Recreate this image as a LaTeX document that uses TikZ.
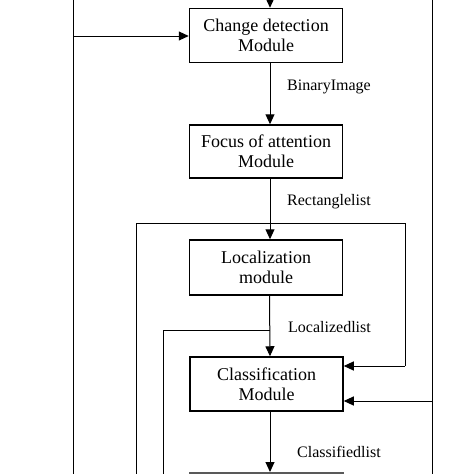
\documentclass[tikz,border=0pt]{standalone}
\usepackage{fontspec}
\setmainfont{Liberation Serif}
\usetikzlibrary{arrows.meta}
\begin{document}
\begin{tikzpicture}[x=1pt, y=-1pt,
	module/.style={draw, line width=1.5pt, minimum width=153pt, minimum height=54pt, align=center, inner sep=2pt, font=\fontsize{18}{20}\selectfont},
	wire/.style={line width=1pt},
	arr/.style={line width=1pt, -{Triangle[length=10pt, width=9pt]}},
	lbl/.style={anchor=west, inner sep=1pt, font=\fontsize{16}{18}\selectfont}]
	%\draw[help lines] (0,0) grid[step=50] (474,474);
	\useasboundingbox (0,0) rectangle (474,474);
	\clip (0,0) rectangle (474,474);
		\node[module] (CD) at (266,35.5) {Change detection\\Module};
		\node[module, minimum height=53pt] (FA) at (266,151.5) {Focus of attention\\Module};
		\node[module, minimum height=55pt] (LM) at (266,267.5) {Localization\\module};
		\node[module] (CM) at (266.5,384) {Classification\\Module};
		\node[module, draw=black!65, line width=2pt] (NX) at (266.5,500) {};
		% loose ends at the picture border
		\coordinate (in)   at (270,-6);
		\coordinate (lt)   at (73,-6);
		\coordinate (lb)   at (73,480);
		\coordinate (lfb)  at (73,36);
		\coordinate (rt)   at (432,-6);
		\coordinate (rb)   at (432,480);
		\coordinate (rfb)  at (432,401);
		\coordinate (rl)   at (136,223);
		\coordinate (rlb)  at (136,480);
		\coordinate (rr)   at (405,223);
		\coordinate (rrb)  at (405,366);
		\coordinate (ll)   at (163,330);
		\coordinate (llb)  at (163,480);
		\coordinate (lr)   at (270,330);
		% main chain
		\draw[arr] (in) -- ([xshift=4pt]CD.north);
		\draw[arr] ([xshift=4pt]CD.south) -- ([xshift=4pt]FA.north);
		\draw[arr] ([xshift=4pt]FA.south) -- ([xshift=4pt]LM.north);
		\draw[arr] ([xshift=3.5pt]LM.south) -- ([xshift=3.5pt]CM.north);
		\draw[arr] ([xshift=3.5pt]CM.south) -- ([xshift=3.5pt]NX.north);
		\node[lbl] at (286,87) {BinaryImage};
		\node[lbl] at (286,202) {Rectanglelist};
		\node[lbl] at (287,327) {Localizedlist};
		\node[lbl] at (296,452) {Classifiedlist};
		% feedback and bypass lines
		\draw[wire] (lt) -- (lb);
		\draw[arr] (lfb) -- (CD.west |- lfb);
		\draw[wire] (rt) -- (rb);
		\draw[arr] (rfb) -- (CM.east |- rfb);
		\draw[wire] (rlb) -- (rl) -- (rr) -- (rrb);
		\draw[arr] (rrb) -- (CM.east |- rrb);
		\draw[wire] (llb) -- (ll) -- (lr);
\end{tikzpicture}
\end{document}
